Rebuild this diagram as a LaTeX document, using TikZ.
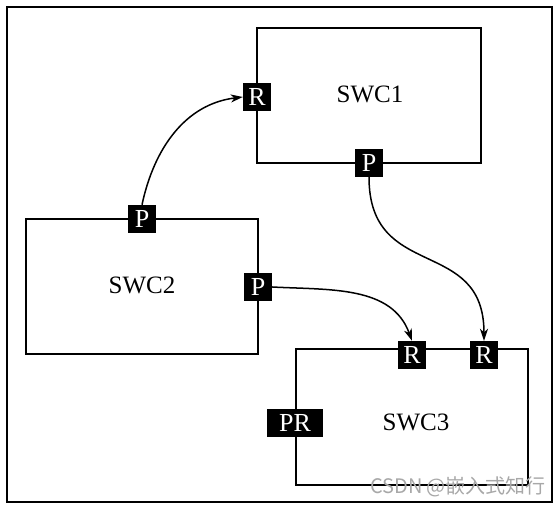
\documentclass[tikz,border=0pt]{standalone}
\usepackage{fontspec}
\setmainfont{Liberation Serif}
\newfontfamily\cjkfont{Noto Sans CJK SC}
\usepackage{xcolor}
\usepackage{tikz}
\usetikzlibrary{
    calc,
    arrows.meta
}
\definecolor{markgray}{HTML}{A8A8A8}
\tikzset{
    swcbox/.style={draw, line width=1.6pt, inner sep=0pt},
    swcname/.style={inner sep=0pt, font=\fontsize{25}{25}\selectfont},
    port/.style={fill=black, text=white, inner sep=0pt,
        minimum width=28pt, minimum height=28pt, font=\fontsize{26}{26}\selectfont},
    link/.style={line width=1.5pt, -{Stealth[length=12pt, width=8pt, inset=3.5pt]}},
    watermark/.style={text=markgray, inner sep=0pt, font=\cjkfont\fontsize{20}{20}\selectfont}
}

\begin{document}
\begin{tikzpicture}[x=1pt, y=1pt]
        \useasboundingbox (0,0) rectangle (559,508);
        \draw[line width=2pt] (7,6) rectangle (552,501);

        % components
        \draw (369,412.5) node[swcbox, minimum width=224pt, minimum height=135pt](swc1){};
        \draw (142,221.5) node[swcbox, minimum width=232pt, minimum height=135pt](swc2){};
        \draw (412,91)    node[swcbox, minimum width=232pt, minimum height=136pt](swc3){};

        \draw (370,414) node[swcname](swc1name){SWC1};
        \draw (142,223) node[swcname](swc2name){SWC2};
        \draw (416,86)  node[swcname](swc3name){SWC3};

        % ports
        \draw (257,411) node[port](swc1r){R};
        \draw (369,345) node[port](swc1p){P};
        \draw (142,289) node[port](swc2pt){P};
        \draw (258,221) node[port](swc2pr){P};
        \draw (412,153) node[port](swc3ra){R};
        \draw (484,153) node[port](swc3rb){R};
        \draw (295,85)  node[port, minimum width=56pt](swc3pr){PR};

        % connectors
        \draw[link] (swc2pt.north) to[out=78, in=187] (swc1r.west);
        \draw[link] (swc2pr.east) to[out=-3, in=110] (swc3ra.north);
        \draw[link] (swc1p.south) to[out=-90, in=90, looseness=1.35] (swc3rb.north);

        \draw (458,21) node[watermark](csdn){CSDN @嵌入式知行};
    \end{tikzpicture}
\end{document}
